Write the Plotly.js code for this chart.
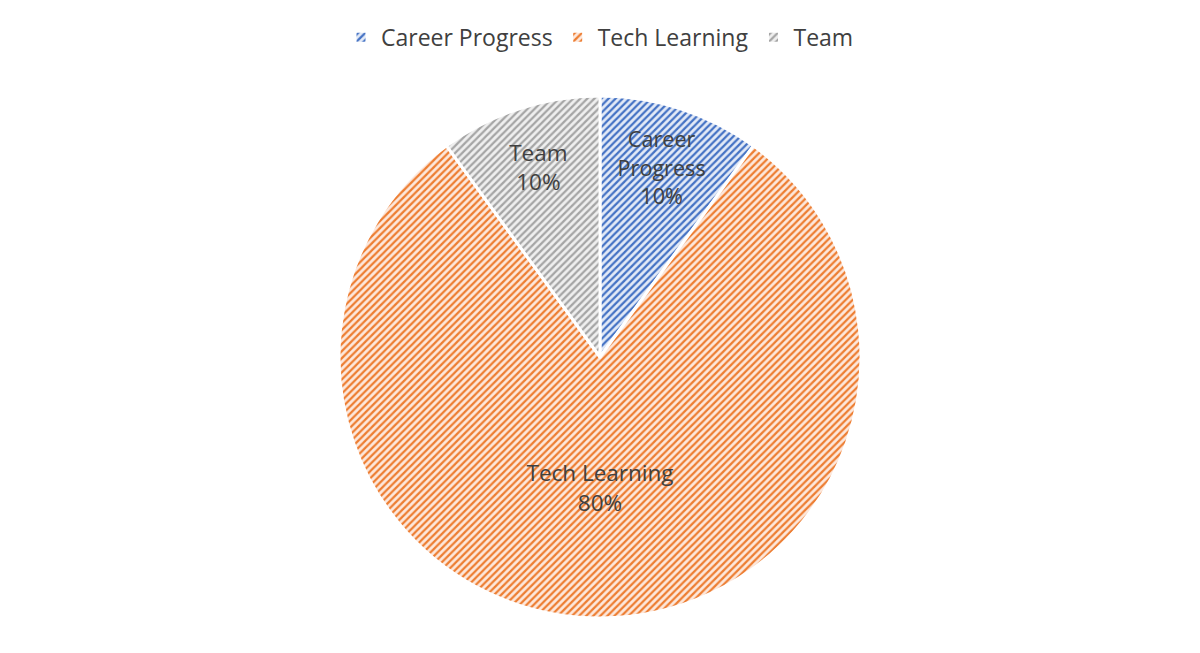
<!DOCTYPE html>
<html><head><meta charset="utf-8">
<script src="https://cdn.plot.ly/plotly-3.0.1.min.js"></script>
<style>html,body{margin:0;padding:0;background:#fff}#chart{width:1200px;height:653px}</style>
</head><body><div id="chart"></div>
<script>
const categories = ["Career Progress", "Tech Learning", "Team"];
const values = [10, 80, 10];
const sliceLabels = ["Career<br>Progress<br>10%", "Tech Learning<br>80%", "Team<br>10%"];
const colors = ["#4472C4", "#ED7D31", "#A5A5A5"];
const tints = ["#e3eaf7", "#fde8dc", "#efefef"];

const trace = {
  type: "pie",
  labels: categories,
  values: values,
  text: sliceLabels,
  textinfo: "text",
  textposition: "inside",
  insidetextorientation: "horizontal",
  insidetextfont: {family: "Open Sans, Noto Sans, sans-serif", size: 22.5, color: "#404040"},
  sort: false,
  direction: "clockwise",
  rotation: 0,
  hoverinfo: "label+percent",
  marker: {
    colors: colors,
    line: {color: "#ffffff", width: 3},
    pattern: {shape: "/", fgcolor: colors, bgcolor: tints, fgopacity: 1, size: 5, solidity: 0.45, fillmode: "replace"}
  },
  domain: {x: [0.2825, 0.7175], y: [0.0536, 0.853]}
};

const layout = {
  width: 1200, height: 653,
  margin: {l: 0, r: 0, t: 0, b: 0},
  paper_bgcolor: "#ffffff",
  showlegend: true,
  legend: {
    orientation: "h", x: 0.5, xanchor: "center", y: 0.943, yanchor: "middle",
    font: {family: "Open Sans, Noto Sans, sans-serif", size: 23, color: "#404040"},
    traceorder: "normal"
  }
};

Plotly.newPlot("chart", [trace], layout, {displayModeBar: false, staticPlot: true});
</script></body></html>
